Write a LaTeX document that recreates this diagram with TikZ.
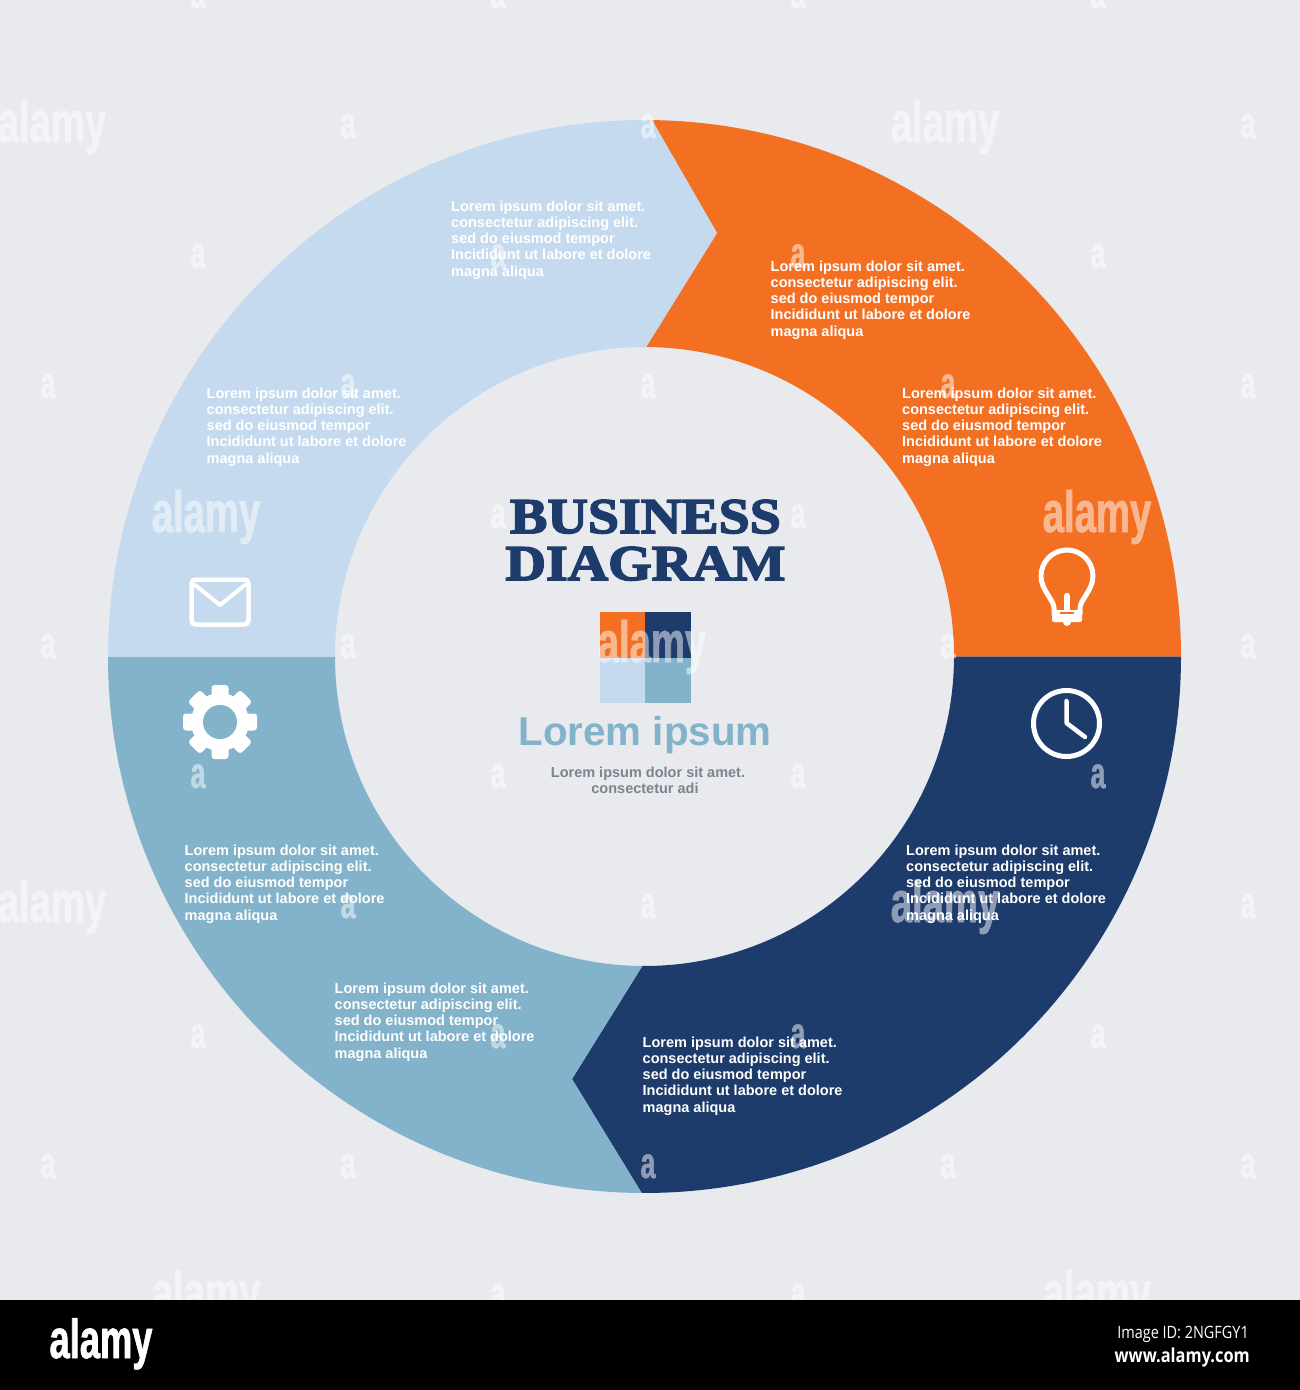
\documentclass[tikz,border=0pt]{standalone}
\usepackage{fontspec}
\usetikzlibrary{calc}
\setmainfont{Liberation Sans}
\newfontfamily\titlefont[FakeBold=3.2,FakeStretch=1.12]{Liberation Serif}
\newfontfamily\markfont[FakeBold=1.2,FakeStretch=0.66]{Liberation Sans}
\newfontfamily\smallmarkfont[FakeBold=1.2,FakeStretch=0.60]{Liberation Sans}
\newfontfamily\footfont[FakeStretch=0.85]{Open Sans}
\definecolor{pagebg}{HTML}{E8EAEE}
\definecolor{orangeseg}{HTML}{F37023}
\definecolor{navyseg}{HTML}{1D3C6B}
\definecolor{paleseg}{HTML}{C5DAEF}
\definecolor{steelseg}{HTML}{82B3CA}
\definecolor{greytext}{HTML}{7F8290}
\tikzset{
  blurb/.style={anchor=north west,inner sep=0pt,align=left,text=white,font=\fontsize{14.5}{16.25}\selectfont\bfseries},
  centreline/.style={anchor=base,inner sep=0pt,text=greytext,font=\fontsize{14.5}{16.25}\selectfont\bfseries},
  titleline/.style={anchor=base,inner sep=0pt,text=navyseg,font=\fontsize{50}{50}\selectfont\titlefont\bfseries},
  iconline/.style={draw=white,line width=5pt,line join=round,line cap=round},
  bigmark/.style={anchor=base,inner sep=0pt,text=white,font=\fontsize{58}{58}\selectfont\markfont\bfseries},
  smallmark/.style={anchor=base,inner sep=0pt,text=white,font=\fontsize{44}{44}\selectfont\smallmarkfont\bfseries},
}
\newcommand{\loremtext}{Lorem ipsum dolor sit amet.\\consectetur adipiscing elit.\\sed do eiusmod tempor\\Incididunt ut labore et dolore\\magna aliqua}
\begin{document}
\begin{tikzpicture}[x=1pt,y=-1pt]
\useasboundingbox (0,0) rectangle (1300,1390);
\clip (0,0) rectangle (1300,1390);
\fill[pagebg] (0,0) rectangle (1300,1300);
\coordinate (hub) at (644.5,656.5);
%
% ring segments
\fill[orangeseg] ($(hub)+(-89.2:536.5)$) arc (-89.2:0:536.5) -- ($(hub)+(0:309.5)$)
  arc (0:-89.7:309.5) -- (717,233) -- cycle;
\fill[navyseg] ($(hub)+(0:536.5)$) arc (0:90.3:536.5) -- (572,1079) -- ($(hub)+(90.4:309.5)$)
  arc (90.4:0:309.5) -- cycle;
\fill[steelseg] ($(hub)+(90.3:536.5)$) arc (90.3:180:536.5) -- ($(hub)+(180:309.5)$)
  arc (180:90.4:309.5) -- (572,1079) -- cycle;
\fill[paleseg] ($(hub)+(180:536.5)$) arc (180:270.8:536.5) -- (717,233) -- ($(hub)+(-89.7:309.5)$)
  arc (270.3:180:309.5) -- cycle;
%
% texts on the ring
\node[blurb] (pale1) at (451,200.5) {\loremtext};
\node[blurb] (orange1) at (770.5,260.5) {\loremtext};
\node[blurb] (orange2) at (902,387.5) {\loremtext};
\node[blurb] (pale2) at (206.5,387.5) {\loremtext};
\node[blurb] (steel1) at (184.5,844.5) {\loremtext};
\node[blurb] (navy1) at (906,844.5) {\loremtext};
\node[blurb] (steel2) at (334.5,982.5) {\loremtext};
\node[blurb] (navy2) at (642.5,1036.5) {\loremtext};
%
% centre
\node[titleline] (title1) at (645.5,533) {BUSINESS};
\node[titleline] (title2) at (645.5,580) {DIAGRAM};
\fill[orangeseg] (600,612) rectangle (645,658);
\fill[navyseg] (645,612) rectangle (690.5,658);
\fill[paleseg] (600,658) rectangle (645,703);
\fill[steelseg] (645,658) rectangle (690.5,703);
\node[anchor=base,inner sep=0pt,text=steelseg,font=\fontsize{40.3}{40}\selectfont\bfseries] (sub) at (645,745) {Lorem ipsum};
\node[centreline] (subtext1) at (648,777) {Lorem ipsum dolor sit amet.};
\node[centreline] (subtext2) at (645,793) {consectetur adi};
%
% bulb
\draw[iconline] (1054,614) -- (1054,608) .. controls (1054,600) and (1041,590) .. (1041,576)
  arc (180:360:26) .. controls (1093,590) and (1080,600) .. (1080,608) -- (1080,614);
\draw[iconline,line width=6.5pt] (1067,596) -- (1067,612);
\fill[white,rounded corners=2pt] (1052,610) rectangle (1082,622);
\fill[white] (1067,622) circle (4);
\fill[orangeseg] (1060,611.5) rectangle (1074,613.5);
%
% clock
\draw[iconline] (1066.5,723.5) circle (33);
\draw[iconline,line width=4.5pt] (1066.5,701) -- (1066.5,723) -- (1085,737);
%
% mail
\draw[iconline,line width=4.5pt,rounded corners=4pt] (191.5,579.5) rectangle (248.5,624.5);
\draw[iconline,line width=4pt] (195,585) -- (220,605) -- (245,585);
%
% gear
\fill[white] (220,722) circle (29);
\foreach \a in {0,45,...,315}
  \fill[white,rounded corners=3pt,shift={(220,722)},rotate=\a] (20,-8.5) rectangle (37,8.5);
\fill[steelseg] (220,722) circle (17);
%
% watermark
\begin{scope}[transparency group,opacity=.5]
\foreach \y in {387,1167} \foreach \x in {48,348,648,948,1248}
  \node[smallmark] (mark\x-\y) at (\x,\y+11) {a};
\foreach \x in {48,348,948,1248}
  \node[smallmark] (mark\x-647) at (\x,658) {a};
\foreach \y in {127,907} \foreach \x in {348,648,1248}
  \node[smallmark] (mark\x-\y) at (\x,\y+11) {a};
\foreach \y in {-3,257,777,1037} \foreach \x in {198,498,798,1098}
  \node[smallmark] (mark\x-\y) at (\x,\y+11) {a};
\foreach \y in {517,1297} \foreach \x in {498,798}
  \node[smallmark] (mark\x-\y) at (\x,\y+11) {a};
\foreach \x/\y in {52/127,945/127,206/517,1097/517,652/647,52/907,945/907,206/1297,1097/1297}
  \node[bigmark] (big\x-\y) at (\x,\y+15) {alamy};
\end{scope}
%
% footer
\fill[black] (0,1300) rectangle (1300,1390);
\node[anchor=base,inner sep=0pt,text=white,font=\fontsize{55}{55}\selectfont\markfont\bfseries] (footlogo) at (101,1358) {alamy};
\node[anchor=base east,inner sep=0pt,text=white,font=\fontsize{17}{17}\selectfont\footfont] (imageid) at (1249,1338) {Image ID: 2NGFGY1};
\node[anchor=base east,inner sep=0pt,text=white,font=\fontsize{19.3}{19.3}\selectfont\footfont\bfseries] (site) at (1250,1362) {www.alamy.com};
\end{tikzpicture}
\end{document}
